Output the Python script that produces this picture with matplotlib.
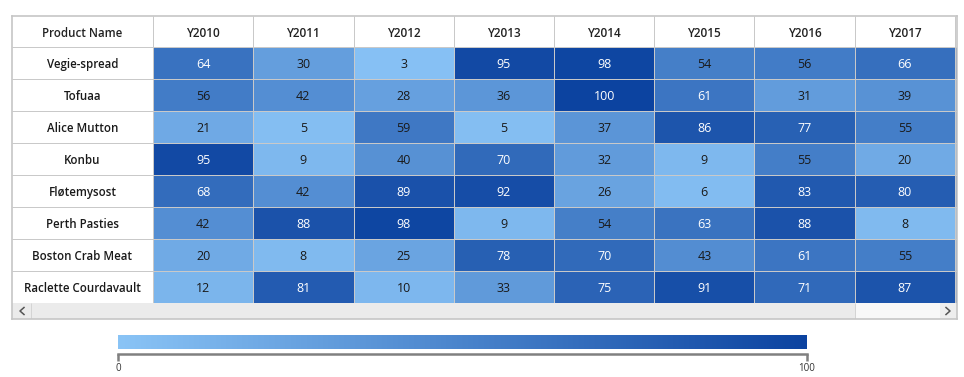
import numpy as np
import matplotlib
matplotlib.use("Agg")
import matplotlib.pyplot as plt
from matplotlib.colors import LinearSegmentedColormap, Normalize
from matplotlib.patches import Rectangle

plt.rcParams['font.family'] = ['Open Sans', 'DejaVu Sans']

products = ["Vegie-spread", "Tofuaa", "Alice Mutton", "Konbu", "Fløtemysost",
            "Perth Pasties", "Boston Crab Meat", "Raclette Courdavault"]
years = ["Y2010", "Y2011", "Y2012", "Y2013", "Y2014", "Y2015", "Y2016", "Y2017", "Y2018"]

y2010 = [64, 56, 21, 95, 68, 42, 20, 12]
y2011 = [30, 42, 5, 9, 42, 88, 8, 81]
y2012 = [3, 28, 59, 40, 89, 98, 25, 10]
y2013 = [95, 36, 5, 70, 92, 9, 78, 33]
y2014 = [98, 100, 37, 32, 26, 54, 70, 75]
y2015 = [54, 61, 86, 9, 6, 63, 43, 91]
y2016 = [56, 31, 77, 55, 83, 88, 61, 71]
y2017 = [66, 39, 55, 20, 80, 8, 55, 87]
y2018 = [96, 60, 55, 40, 78, 30, 55, 85]   # only a sliver of this column is visible

values = np.array([y2010, y2011, y2012, y2013, y2014, y2015, y2016, y2017, y2018]).T
n_visible = 8  # columns fully in view (the rest is scrolled off)

W, H = 964, 377
fig = plt.figure(figsize=(W / 100, H / 100), dpi=100)


def px_axes(x, y, w, h):
    return fig.add_axes([x / W, 1 - (y + h) / H, w / W, h / H])


cmap = LinearSegmentedColormap.from_list("blues", ["#8AC4F6", "#4A84CC", "#0C43A0"])
norm = Normalize(0, 100)
grid_col = "#c9c9c9"
lw = 0.72
dy = 0.05  # nudge text down a little to sit centred like the original

# ---- table ----
col_w = 100.25
row_h = 32.0
name_w = 141 / col_w
head_h = 31 / row_h
ax = px_axes(12, 16, 945, 287)
ax.set_xlim(-name_w, 945 / col_w - name_w)
ax.set_ylim(len(products), -head_h)
ax.axis("off")

nrows, ncols = values.shape
ax.pcolormesh(np.arange(ncols + 1), np.arange(nrows + 1), values, cmap=cmap, norm=norm,
              edgecolor="none")
# cell borders, snapped to whole pixels
ax.vlines(np.arange(ncols + 1), -head_h, nrows, color=grid_col, lw=lw, snap=True)
ax.hlines(np.arange(nrows + 1), -name_w, ncols, color=grid_col, lw=lw, snap=True)

for i, name in enumerate(products):
    ax.text(-name_w / 2, i + 0.5 + dy, name, ha="center", va="center", fontsize=8.3,
            weight="semibold", color="#1a1a1a")
    for j in range(n_visible):
        v = values[i, j]
        ax.text(j + 0.5, i + 0.5 + dy, str(v), ha="center", va="center", fontsize=9,
                color="white" if v > 60 else "#1a1a1a")
ax.text(-name_w / 2, -head_h / 2 + dy, "Product Name", ha="center", va="center",
        fontsize=8.3, weight="semibold", color="#222222")
for j in range(n_visible):
    ax.text(j + 0.5, -head_h / 2 + dy, years[j], ha="center", va="center", fontsize=8.5,
            weight="semibold", color="#222222")

# ---- scrollbar ----
sb = px_axes(12, 303, 945, 16)
sb.set_xlim(12, 957)
sb.set_ylim(319, 303)
sb.axis("off")
sb.add_patch(Rectangle((12, 303), 945, 16, facecolor="#ebebeb", edgecolor="none"))
sb.add_patch(Rectangle((855, 303), 102, 16, facecolor="#f8f8f8", edgecolor="none"))
sb.add_patch(Rectangle((940, 303), 17, 16, facecolor="#eeeeee", edgecolor="none"))
sb.vlines([31, 855], 303, 319, color="#d4d4d4", lw=lw, snap=True)
sb.plot([24, 20, 24], [307.5, 311, 314.5], color="#555555", lw=1.1)
sb.plot([946, 950, 946], [307.5, 311, 314.5], color="#555555", lw=1.1)

# outer border
frame = px_axes(12, 16, 945, 303)
frame.set_xticks([])
frame.set_yticks([])
frame.patch.set_alpha(0)
for s in frame.spines.values():
    s.set_color("#c6c6c6")
    s.set_linewidth(1.2)

# ---- colour bar ----
cax = px_axes(118, 335, 689, 19)
grad = np.linspace(0, 100, 256).reshape(1, -1)
cax.imshow(grad, cmap=cmap, norm=norm, aspect="auto", extent=(0, 100, 0.25, 1))
cax.set_xlim(0, 100)
cax.set_ylim(0, 1)
for k in ("top", "left", "right"):
    cax.spines[k].set_visible(False)
cax.spines["bottom"].set_color("#808080")
cax.spines["bottom"].set_linewidth(1.8)
cax.set_yticks([])
cax.set_xticks([0, 100])
cax.tick_params(axis="x", length=5, width=1.8, color="#808080", labelsize=7,
                labelcolor="#333333", pad=1.5)

fig.savefig("out.png", dpi=100)
